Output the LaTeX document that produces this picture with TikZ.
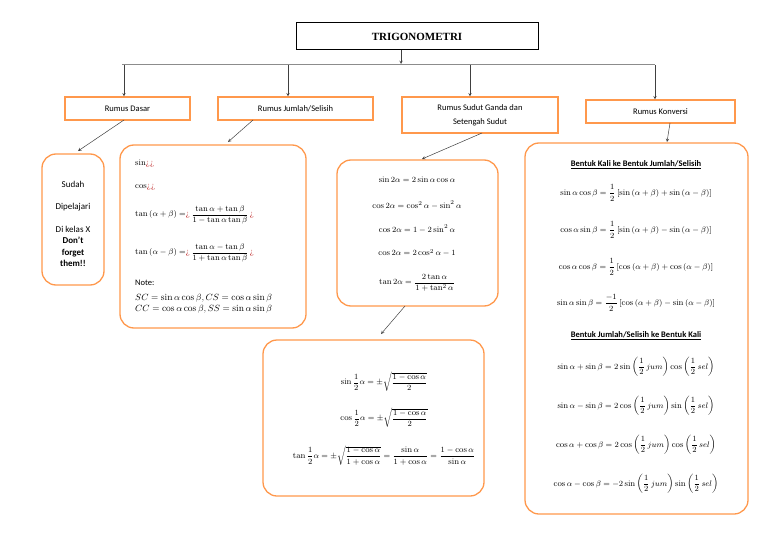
\documentclass[tikz,border=0pt]{standalone}
\usepackage{fontspec}
\usepackage{amsmath}
\newfontfamily\lab{Carlito}
\newfontfamily\ttl{Liberation Serif}
\begin{document}
\begin{tikzpicture}[x=1pt,y=-1pt,
  ob/.style={draw=orange!85!red!70,line width=1.3pt},
  lbl/.style={ob,font=\lab\fontsize{8.5}{10}\selectfont,align=center,inner sep=0pt},
  rb/.style={ob,rounded corners=14pt},
  ar/.style={->,>=stealth,draw=black!75,line width=0.5pt},
  m/.style={font=\fontsize{8.5}{10}\selectfont,inner sep=0pt}]
\useasboundingbox (0,0) rectangle (768,543);
% title
\node[draw,line width=1pt,minimum width=242pt,minimum height=27pt,font=\ttl\bfseries\fontsize{11}{13}\selectfont] (t) at (417,36.5) {TRIGONOMETRI};
\coordinate (tb) at (401,50);
\coordinate (hj) at (401,64);
\draw[ar] (tb) -- (hj);
\coordinate (hl) at (122,65);
\coordinate (hr) at (655,65);
\draw[black!45,line width=1pt] (hl) -- (hr);
% level boxes
\node[lbl,minimum width=125pt,minimum height=23pt] (b1) at (127.5,108.5) {Rumus Dasar};
\node[lbl,minimum width=155pt,minimum height=23pt] (b2) at (295.5,108.5) {Rumus Jumlah/Selisih};
\node[lbl,minimum width=156pt,minimum height=36pt] (b3) at (480,115) {Rumus Sudut Ganda dan\\[4pt]Setengah Sudut};
\node[lbl,minimum width=149pt,minimum height=23pt] (b4) at (660.5,111.5) {Rumus Konversi};
\foreach \x/\n in {124/b1,288/b2,470/b3,655/b4}{
  \coordinate (d\n) at (\x,65);
  \draw[ar] (d\n) -- (d\n |- \n.north);
}
% content boxes
\draw[rb] (42,154) rectangle (104,285);
\draw[rb] (120,145) rectangle (306,328);
\draw[rb] (337,160) rectangle (498,306);
\coordinate (c3b) at (405,306);
\draw[rb] (263,340) rectangle (484,496);
\draw[rb] (525,143) rectangle (748,514);
\draw[ar] (124,120) -- (78,151);
\draw[ar] (253,120) -- (228,142);
\draw[ar] (482,133) -- (422,159);
\draw[ar] (670,123) -- (667,142);
\draw[ar] (c3b) -- (381,334);
% Sudah
\node[font=\lab\fontsize{9}{11.5}\selectfont,align=center] (s) at (73,224) {Sudah\\[11pt]Dipelajari\\[11pt]Di kelas X\\\textbf{Don’t}\\\textbf{forget}\\\textbf{them!!}};
% jumlah box
\node[m,anchor=west] (j1) at (135,164) {$\sin$\textcolor{red!70!black}{¿¿}};
\node[m,anchor=west] (j2) at (135,187) {$\cos$\textcolor{red!70!black}{¿¿}};
\node[m,anchor=west] (j3) at (135,215) {$\tan\left(\alpha+\beta\right)=$\textcolor{red!70!black}{¿}$\,\dfrac{\tan\alpha+\tan\beta}{1-\tan\alpha\tan\beta}$\,\textcolor{red!70!black}{¿}};
\node[m,anchor=west] (j4) at (135,253) {$\tan\left(\alpha-\beta\right)=$\textcolor{red!70!black}{¿}$\,\dfrac{\tan\alpha-\tan\beta}{1+\tan\alpha\tan\beta}$\,\textcolor{red!70!black}{¿}};
\node[font=\lab\fontsize{8.5}{10}\selectfont,anchor=west,inner sep=0pt] (j5) at (135,283) {Note:};
\node[m,anchor=west,align=left,font=\fontsize{9.5}{11}\selectfont] (j6) at (135,304) {$SC=\sin\alpha\cos\beta, CS=\cos\alpha\sin\beta$\\$CC=\cos\alpha\cos\beta, SS=\sin\alpha\sin\beta$};
% double angle
\node[m] (g1) at (417,180) {$\sin2\alpha=2\sin\alpha\cos\alpha$};
\node[m] (g2) at (417,205) {$\cos2\alpha=\cos^2\alpha-\sin^2\alpha$};
\node[m] (g3) at (417,229) {$\cos2\alpha=1-2\sin^2\alpha$};
\node[m] (g4) at (417,253) {$\cos2\alpha=2\cos^2\alpha-1$};
\node[m] (g5) at (417,283) {$\tan2\alpha=\dfrac{2\tan\alpha}{1+\tan^2\alpha}$};
% half angle
\node[m] (h1) at (384,382) {$\sin\dfrac12\alpha=\pm\sqrt{\dfrac{1-\cos\alpha}{2}}$};
\node[m] (h2) at (384,418) {$\cos\dfrac12\alpha=\pm\sqrt{\dfrac{1-\cos\alpha}{2}}$};
\node[m] (h3) at (384,456) {$\tan\dfrac12\alpha=\pm\sqrt{\dfrac{1-\cos\alpha}{1+\cos\alpha}}=\dfrac{\sin\alpha}{1+\cos\alpha}=\dfrac{1-\cos\alpha}{\sin\alpha}$};
% konversi
\node[font=\lab\bfseries\fontsize{8.5}{10}\selectfont] (k0) at (636,165) {\underline{Bentuk Kali ke Bentuk Jumlah/Selisih}};
\node[m] (k1) at (636,193) {$\sin\alpha\cos\beta=\dfrac12\left[\sin\left(\alpha+\beta\right)+\sin\left(\alpha-\beta\right)\right]$};
\node[m] (k2) at (636,230) {$\cos\alpha\sin\beta=\dfrac12\left[\sin\left(\alpha+\beta\right)-\sin\left(\alpha-\beta\right)\right]$};
\node[m] (k3) at (636,267) {$\cos\alpha\cos\beta=\dfrac12\left[\cos\left(\alpha+\beta\right)+\cos\left(\alpha-\beta\right)\right]$};
\node[m] (k4) at (636,303) {$\sin\alpha\sin\beta=\dfrac{-1}2\left[\cos\left(\alpha+\beta\right)-\sin\left(\alpha-\beta\right)\right]$};
\node[font=\lab\bfseries\fontsize{8.5}{10}\selectfont] (k5) at (636,336) {\underline{Bentuk Jumlah/Selisih ke Bentuk Kali}};
\node[m] (k6) at (636,367) {$\sin\alpha+\sin\beta=2\sin\left(\dfrac12\,jum\right)\cos\left(\dfrac12\,sel\right)$};
\node[m] (k7) at (636,406) {$\sin\alpha-\sin\beta=2\cos\left(\dfrac12\,jum\right)\sin\left(\dfrac12\,sel\right)$};
\node[m] (k8) at (636,445) {$\cos\alpha+\cos\beta=2\cos\left(\dfrac12\,jum\right)\cos\left(\dfrac12\,sel\right)$};
\node[m] (k9) at (636,484) {$\cos\alpha-\cos\beta=-2\sin\left(\dfrac12\,jum\right)\sin\left(\dfrac12\,sel\right)$};
\end{tikzpicture}
\end{document}
